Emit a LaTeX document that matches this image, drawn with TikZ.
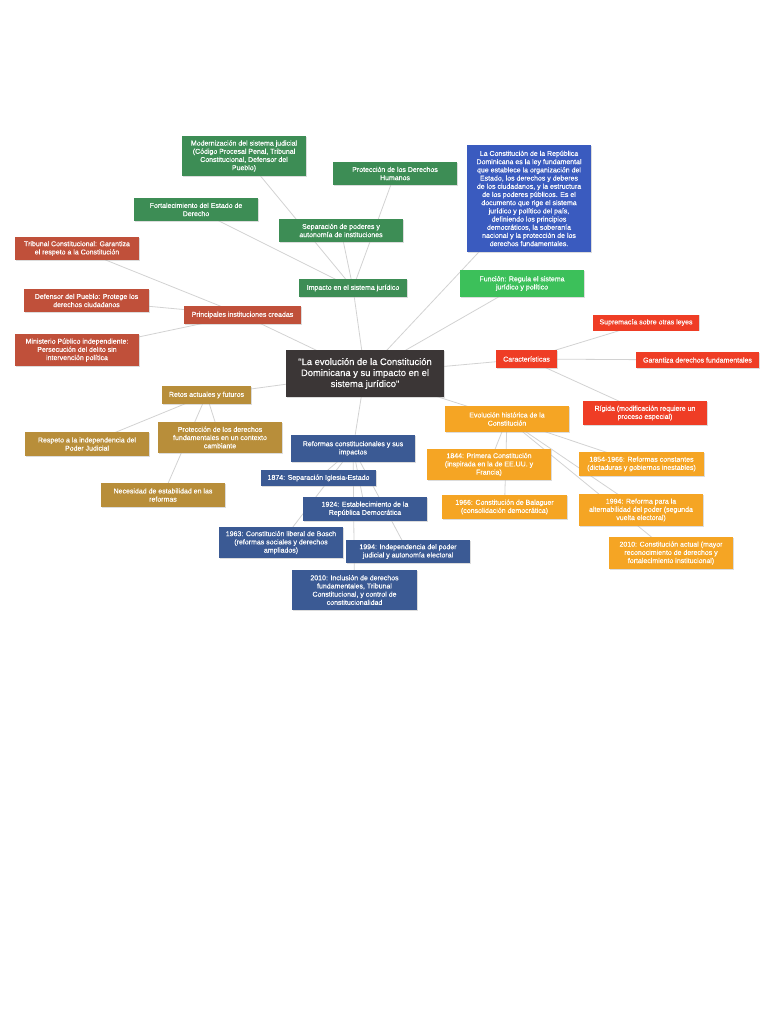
\documentclass[tikz,border=0pt]{standalone}
\usepackage{fontspec}
\setmainfont{Liberation Sans}
\newfontfamily\boxfont[FakeBold=0.35]{Liberation Sans}
\usetikzlibrary{backgrounds,shadows}
\definecolor{cgreen}{HTML}{3D8D55}
\definecolor{cfunc}{HTML}{3CC05A}
\definecolor{cblue}{HTML}{3A5BBF}
\definecolor{cbrick}{HTML}{C0503A}
\definecolor{cred}{HTML}{EF3D25}
\definecolor{corange}{HTML}{F5A524}
\definecolor{cgold}{HTML}{B88E3A}
\definecolor{cnavy}{HTML}{3B5A94}
\definecolor{ccenter}{HTML}{3B3636}
\definecolor{cline}{HTML}{D2D2D2}
\tikzset{
  box/.style={text=white, align=center, inner sep=1pt,
    font=\boxfont\fontsize{7}{8.2}\selectfont,
    drop shadow={shadow xshift=0.8pt, shadow yshift=-0.9pt, fill=black!30, opacity=0.45}},
  greenbox/.style={box, fill=cgreen},
  funcbox/.style={box, fill=cfunc},
  bluebox/.style={box, fill=cblue},
  brickbox/.style={box, fill=cbrick},
  redbox/.style={box, fill=cred},
  orangebox/.style={box, fill=corange},
  goldbox/.style={box, fill=cgold},
  navybox/.style={box, fill=cnavy},
  centerbox/.style={box, fill=ccenter, font=\boxfont\fontsize{9.4}{11}\selectfont},
  link/.style={draw=cline, line width=0.8pt},
  sz/.style 2 args={minimum width=#1pt, minimum height=#2pt}
}
\begin{document}
\begin{tikzpicture}[x=1pt,y=-1pt]
\useasboundingbox (0,0) rectangle (768,1024);
% center
\node[centerbox, sz={158}{47}] (center) at (365,373.5) {"La evolución de la Constitución\\Dominicana y su impacto en el\\sistema jurídico"};
% green
\node[greenbox, sz={124}{40}] (modern) at (244,156) {Modernización del sistema judicial\\(Código Procesal Penal, Tribunal\\Constitucional, Defensor del\\Pueblo)};
\node[greenbox, sz={124}{23}] (protdh) at (395,173.5) {Protección de los Derechos\\Humanos};
\node[greenbox, sz={124}{23}] (fort) at (196,209.5) {Fortalecimiento del Estado de\\Derecho};
\node[greenbox, sz={124}{23}] (separ) at (341,230.5) {Separación de poderes y\\autonomía de instituciones};
\node[greenbox, sz={108}{18}] (impacto) at (353,288) {Impacto en el sistema jurídico};
% blue + function
\node[bluebox, sz={124}{107}] (defin) at (529,198.5) {La Constitución de la República\\Dominicana es la ley fundamental\\que establece la organización del\\Estado, los derechos y deberes\\de los ciudadanos, y la estructura\\de los poderes públicos. Es el\\documento que rige el sistema\\jurídico y político del país,\\definiendo los principios\\democráticos, la soberanía\\nacional y la protección de los\\derechos fundamentales.};
\node[funcbox, sz={124}{27}] (funcion) at (522,283.5) {Función: Regula el sistema\\jurídico y político};
% brick
\node[brickbox, sz={124}{23}] (tribunal) at (77,248.5) {Tribunal Constitucional: Garantiza\\el respeto a la Constitución};
\node[brickbox, sz={125}{23}] (defensor) at (86.5,300.5) {Defensor del Pueblo: Protege los\\derechos ciudadanos};
\node[brickbox, sz={117}{18}] (princ) at (242.5,315) {Principales instituciones creadas};
\node[brickbox, sz={124}{32}] (minist) at (77,350) {Ministerio Público independiente:\\Persecución del delito sin\\intervención política};
% red
\node[redbox, sz={61}{18}] (caract) at (526.5,359) {Características};
\node[redbox, sz={106}{16}] (suprem) at (646,322.5) {Supremacía sobre otras leyes};
\node[redbox, sz={123}{16}] (garant) at (697.5,360) {Garantiza derechos fundamentales};
\node[redbox, sz={124}{24}] (rigida) at (645,413) {Rígida (modificación requiere un\\proceso especial)};
% orange
\node[orangebox, sz={124}{26}] (evol) at (507,419) {Evolución histórica de la\\Constitución};
\node[orangebox, sz={124}{31}] (o1844) at (489,464.5) {1844: Primera Constitución\\(inspirada en la de EE.UU. y\\Francia)};
\node[orangebox, sz={125}{24}] (o1854) at (641.5,464) {1854-1966: Reformas constantes\\(dictaduras y gobiernos inestables)};
\node[orangebox, sz={125}{24}] (o1966) at (504.5,507) {1966: Constitución de Balaguer\\(consolidación democrática)};
\node[orangebox, sz={124}{32}] (o1994) at (641,510) {1994: Reforma para la\\alternabilidad del poder (segunda\\vuelta electoral)};
\node[orangebox, sz={124}{32}] (o2010) at (671,553) {2010: Constitución actual (mayor\\reconocimiento de derechos y\\fortalecimiento institucional)};
% gold
\node[goldbox, sz={89}{18}] (retos) at (206.5,395) {Retos actuales y futuros};
\node[goldbox, sz={124}{24}] (respeto) at (87,444) {Respeto a la independencia del\\Poder Judicial};
\node[goldbox, sz={124}{31}] (protfund) at (220,437.5) {Protección de los derechos\\fundamentales en un contexto\\cambiante};
\node[goldbox, sz={124}{24}] (neces) at (163,495) {Necesidad de estabilidad en las\\reformas};
% navy
\node[navybox, sz={124}{27}] (reform) at (353,448.5) {Reformas constitucionales y sus\\impactos};
\node[navybox, sz={115}{16}] (n1874) at (318.5,478) {1874: Separación Iglesia-Estado};
\node[navybox, sz={124}{24}] (n1924) at (365,509) {1924: Establecimiento de la\\República Democrática};
\node[navybox, sz={124}{31}] (n1963) at (281,542.5) {1963: Constitución liberal de Bosch\\(reformas sociales y derechos\\ampliados)};
\node[navybox, sz={124}{23}] (n1994) at (408,551.5) {1994: Independencia del poder\\judicial y autonomía electoral};
\node[navybox, sz={125}{40}] (n2010) at (354.5,590) {2010: Inclusión de derechos\\fundamentales, Tribunal\\Constitucional, y control de\\constitucionalidad};
% connectors
\begin{scope}[on background layer]
\foreach \a/\b in {center/impacto, impacto/modern, impacto/protdh, impacto/fort, impacto/separ,
  center/defin, center/funcion,
  center/princ, princ/tribunal, princ/defensor, princ/minist,
  center/caract, caract/suprem, caract/garant, caract/rigida,
  center/evol, evol/o1844, evol/o1854, evol/o1966, evol/o1994, evol/o2010,
  center/retos, retos/respeto, retos/protfund, retos/neces,
  center/reform, reform/n1874, reform/n1924, reform/n1963, reform/n1994, reform/n2010}
  \draw[link] (\a.center) -- (\b.center);
\end{scope}
\end{tikzpicture}
\end{document}
